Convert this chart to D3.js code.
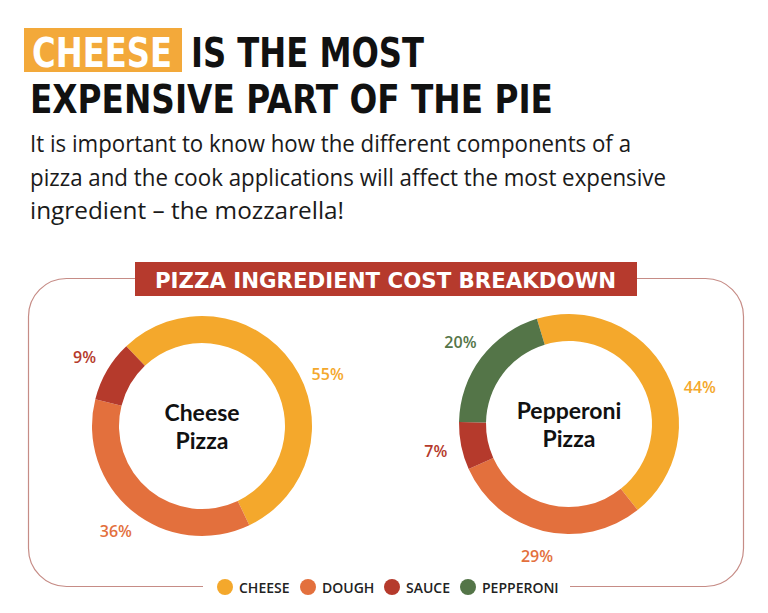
<!DOCTYPE html>
<html>
<head>
<meta charset="utf-8">
<script src="https://cdn.jsdelivr.net/npm/d3@7"></script>
<style>
  body { margin: 0; background: #fff; }
  svg { display: block; }
</style>
</head>
<body>
<svg id="main-svg"></svg>
<script>
// DATA
const ingredients = ["CHEESE", "DOUGH", "SAUCE", "PEPPERONI"]
const pizzaNames = [["Cheese", "Pizza"], ["Pepperoni", "Pizza"]]
const cheesePizzaShares = [55, 36, 9, 0]
const pepperoniPizzaShares = [44, 29, 7, 20]
const titleWords = ["CHEESE", "IS THE MOST", "EXPENSIVE PART OF THE PIE"]
const subtitleLines = [
  "It is important to know how the different components of a",
  "pizza and the cook applications will affect the most expensive",
  "ingredient \u2013 the mozzarella!"
]
const chartTitle = "PIZZA INGREDIENT COST BREAKDOWN"

// LAYOUT
const CANVAS_WIDTH = 768
const CANVAS_HEIGHT = 613
const OUTER_R = 110
const INNER_R = 83
const LABEL_R = 136
const CHARTS = [
  { cx: 202, cy: 426, start: -43.5, shares: cheesePizzaShares, name: pizzaNames[0] },
  { cx: 569, cy: 424, start: -17, shares: pepperoniPizzaShares, name: pizzaNames[1] }
]
const CHEESE_LABEL_NUDGE = 12 // degrees, labels sit a bit clockwise of the slice middle

// STYLE
const COLORS = ["#F4A82C", "#E3703D", "#B53A2C", "#547548"]
const BANNER_COLOR = "#B63A2D"
const BORDER_COLOR = "#C68C86"
const TEXT_COLOR = "#111"
const HEAVY_FONT = "'Liberation Sans Narrow', 'DejaVu Sans Condensed', 'Liberation Sans', sans-serif"
const BODY_FONT = "'Open Sans', sans-serif"
const ROUND_FONT = "Lato, 'Open Sans', sans-serif"

const color = d3.scaleOrdinal().domain(ingredients).range(COLORS)

const svg = d3.select("#main-svg")
  .attr("width", CANVAS_WIDTH)
  .attr("height", CANVAS_HEIGHT)

svg.append("rect")
  .attr("width", "100%")
  .attr("height", "100%")
  .attr("fill", "#fff")

// headline
svg.append("rect")
  .attr("x", 24).attr("y", 28)
  .attr("width", 158).attr("height", 44)
  .attr("fill", "#F3A93A")

const heavyText = (x, y, txt, len, size, fill) =>
  svg.append("text")
    .attr("x", x).attr("y", y)
    .attr("textLength", len)
    .attr("lengthAdjust", "spacingAndGlyphs")
    .style("font-family", HEAVY_FONT)
    .style("font-weight", "bold")
    .style("font-size", size + "px")
    .attr("fill", fill)
    .text(txt)

heavyText(32, 67, titleWords[0], 140, 41, "#fff")
heavyText(191, 67, titleWords[1], 233, 41, TEXT_COLOR)
heavyText(30, 113, titleWords[2], 523, 39, TEXT_COLOR)

const subtitleWidths = [601, 636, 314]
subtitleLines.forEach((line, i) => {
  svg.append("text")
    .attr("x", 30)
    .attr("y", 152 + i * 33.5)
    .attr("textLength", subtitleWidths[i])
    .attr("lengthAdjust", "spacingAndGlyphs")
    .style("font-family", BODY_FONT)
    .style("font-size", "23px")
    .attr("fill", "#1a1a1a")
    .text(line)
})

// panel border
svg.append("rect")
  .attr("x", 28.5).attr("y", 278.5)
  .attr("width", 715).attr("height", 308)
  .attr("rx", 38)
  .attr("fill", "none")
  .attr("stroke", BORDER_COLOR)
  .attr("stroke-width", 1.2)

// banner
svg.append("rect")
  .attr("x", 135).attr("y", 262)
  .attr("width", 502).attr("height", 34)
  .attr("fill", BANNER_COLOR)

heavyText(155, 287.5, chartTitle, 461, 22, "#fff")

// donuts
const arc = d3.arc().innerRadius(INNER_R).outerRadius(OUTER_R)
const rad = (deg) => deg * Math.PI / 180
const labelAngle = (d) =>
  (d.startAngle + d.endAngle) / 2 + (d.data.key === "CHEESE" ? rad(CHEESE_LABEL_NUDGE) : 0)

CHARTS.forEach((chart) => {
  const pie = d3.pie()
    .sort(null)
    .value((d) => d.value)
    .startAngle(rad(chart.start))
    .endAngle(rad(chart.start) + 2 * Math.PI)

  const slices = pie(ingredients.map((key, i) => ({ key, value: chart.shares[i] })))
    .filter((d) => d.data.value > 0)

  const g = svg.append("g")
    .attr("transform", `translate(${chart.cx},${chart.cy})`)

  g.selectAll("path")
    .data(slices)
    .join("path")
    .attr("d", arc)
    .attr("fill", (d) => color(d.data.key))

  g.selectAll("text.pct")
    .data(slices)
    .join("text")
    .attr("class", "pct")
    .attr("x", (d) => Math.sin(labelAngle(d)) * LABEL_R)
    .attr("y", (d) => -Math.cos(labelAngle(d)) * LABEL_R)
    .attr("text-anchor", "middle")
    .attr("dominant-baseline", "central")
    .style("font-family", BODY_FONT)
    .style("font-weight", "600")
    .style("font-size", "16px")
    .attr("fill", (d) => color(d.data.key))
    .text((d) => d.data.value + "%")

  g.selectAll("text.name")
    .data(chart.name)
    .join("text")
    .attr("class", "name")
    .attr("x", 0)
    .attr("y", (_, i) => -5 + i * 28)
    .attr("text-anchor", "middle")
    .style("font-family", ROUND_FONT)
    .style("font-weight", "bold")
    .style("font-size", "23px")
    .attr("fill", TEXT_COLOR)
    .text((d) => d)
})

// legend
svg.append("rect")
  .attr("x", 203).attr("y", 580)
  .attr("width", 367).attr("height", 14)
  .attr("fill", "#fff")

const legendX = [225, 308, 392, 468]
const legend = svg.append("g")
  .selectAll("g")
  .data(ingredients)
  .join("g")
  .attr("transform", (_, i) => `translate(${legendX[i]},587)`)

legend.append("circle")
  .attr("r", 8)
  .attr("fill", (d) => color(d))

legend.append("text")
  .attr("x", 14)
  .attr("dominant-baseline", "central")
  .style("font-family", BODY_FONT)
  .style("font-weight", "600")
  .style("font-size", "14px")
  .attr("fill", "#222")
  .text((d) => d)
</script>
</body>
</html>
